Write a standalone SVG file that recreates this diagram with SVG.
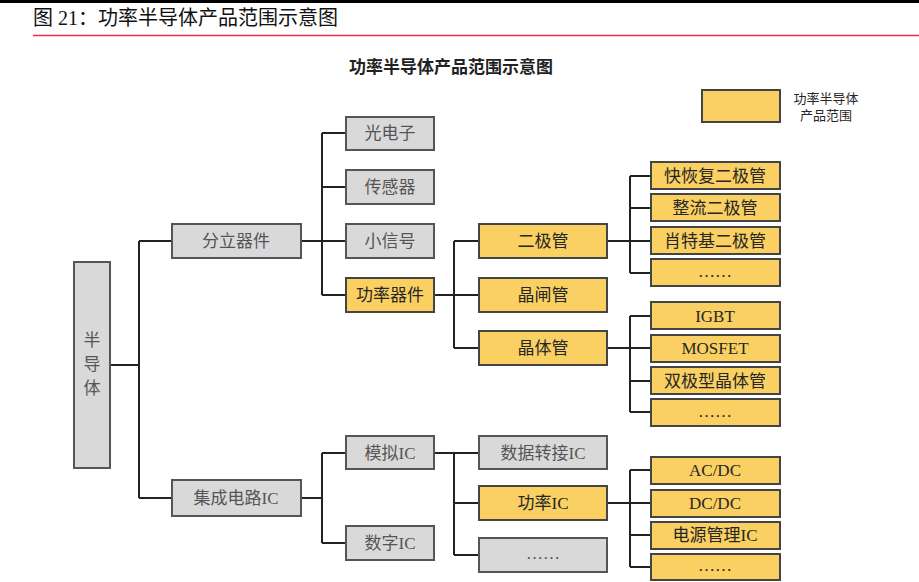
<svg xmlns="http://www.w3.org/2000/svg" width="919" height="582" viewBox="0 0 919 582">
<style>
text{font-family:"Liberation Serif","Noto Sans CJK SC",serif;font-size:17px;text-anchor:middle;dominant-baseline:central;fill:#262626}
.g rect{fill:#d9d9d9;stroke:#555;stroke-width:2}
.g text{fill:#555}
.y rect{fill:#f9d061;stroke:#444;stroke-width:2}
.c{fill:none;stroke:#222;stroke-width:2}
</style>
<rect x="0" y="0" width="919" height="582" fill="#fff"/>
<line x1="0" y1="1.5" x2="919" y2="1.5" stroke="#000" stroke-width="3"/>
<text x="33" y="18" style="text-anchor:start;font-size:20px;fill:#111;font-family:'Liberation Serif','Noto Sans CJK SC',serif">图 21：功率半导体产品范围示意图</text>
<line x1="33" y1="35.5" x2="919" y2="35.5" stroke="#e8313a" stroke-width="1.5"/>
<text x="451" y="67" style="font-weight:bold;font-size:17px;fill:#222">功率半导体产品范围示意图</text>
<g id="legend" class="y"><rect x="702" y="90" width="78" height="32"/>
<text x="826" y="98" style="font-size:13px">功率半导体</text><text x="826" y="115" style="font-size:13px">产品范围</text></g>
<g id="connectors" class="c">
<path d="M110 365H139M139 241V498M139 241H172M139 498H172"/>
<path d="M301 241H346M322 133V295M322 133H346M322 187H346M322 295H346"/>
<path d="M434 295H479M454 241V348M454 241H479M454 348H479"/>
<path d="M607 241H651M630 176V273M630 176H651M630 208H651M630 273H651"/>
<path d="M607 348H651M630 316V412M630 316H651M630 381H651M630 412H651"/>
<path d="M301 498H322M322 453V543M322 453H346M322 543H346"/>
<path d="M434 453H479M454 453V555M454 503H479M454 555H479"/>
<path d="M607 503H651M630 470V567M630 470H651M630 535H651M630 567H651"/>
</g>
<g id="n-semi" class="g"><rect x="74" y="262" width="36" height="206"/><text x="92" y="340">半</text><text x="92" y="364">导</text><text x="92" y="388">体</text></g>
<g id="n-discrete" class="g"><rect x="172" y="224" width="129" height="34"/><text x="236" y="241">分立器件</text></g>
<g id="n-ic" class="g"><rect x="172" y="480" width="129" height="36"/><text x="236" y="498">集成电路IC</text></g>
<g id="n-opto" class="g"><rect x="346" y="117" width="88" height="33"/><text x="390" y="133">光电子</text></g>
<g id="n-sensor" class="g"><rect x="346" y="170" width="88" height="34"/><text x="390" y="187">传感器</text></g>
<g id="n-small" class="g"><rect x="346" y="224" width="88" height="34"/><text x="390" y="241">小信号</text></g>
<g id="n-power" class="y"><rect x="346" y="278" width="88" height="34"/><text x="390" y="295">功率器件</text></g>
<g id="n-diode" class="y"><rect x="479" y="224" width="128" height="34"/><text x="543" y="241">二极管</text></g>
<g id="n-thyristor" class="y"><rect x="479" y="278" width="128" height="34"/><text x="543" y="295">晶闸管</text></g>
<g id="n-transistor" class="y"><rect x="479" y="331" width="128" height="34"/><text x="543" y="348">晶体管</text></g>
<g id="n-frd" class="y"><rect x="651" y="162" width="129" height="27"/><text x="715" y="176">快恢复二极管</text></g>
<g id="n-rect" class="y"><rect x="651" y="194" width="129" height="27"/><text x="715" y="208">整流二极管</text></g>
<g id="n-sbd" class="y"><rect x="651" y="227" width="129" height="27"/><text x="715" y="241">肖特基二极管</text></g>
<g id="n-d-more" class="y"><rect x="651" y="259" width="129" height="27"/><text x="715" y="271">……</text></g>
<g id="n-igbt" class="y"><rect x="651" y="302" width="129" height="27"/><text x="715" y="316">IGBT</text></g>
<g id="n-mosfet" class="y"><rect x="651" y="335" width="129" height="27"/><text x="715" y="348">MOSFET</text></g>
<g id="n-bjt" class="y"><rect x="651" y="367" width="129" height="27"/><text x="715" y="381">双极型晶体管</text></g>
<g id="n-t-more" class="y"><rect x="651" y="399" width="129" height="27"/><text x="715" y="411">……</text></g>
<g id="n-analog" class="g"><rect x="346" y="436" width="88" height="33"/><text x="390" y="453">模拟IC</text></g>
<g id="n-digital" class="g"><rect x="346" y="526" width="88" height="34"/><text x="390" y="543">数字IC</text></g>
<g id="n-dc" class="g"><rect x="479" y="436" width="128" height="33"/><text x="543" y="453">数据转接IC</text></g>
<g id="n-pic" class="y"><rect x="479" y="486" width="128" height="34"/><text x="543" y="503">功率IC</text></g>
<g id="n-a-more" class="g"><rect x="479" y="538" width="128" height="34"/><text x="543" y="553">……</text></g>
<g id="n-acdc" class="y"><rect x="651" y="457" width="129" height="27"/><text x="715" y="470">AC/DC</text></g>
<g id="n-dcdc" class="y"><rect x="651" y="490" width="129" height="27"/><text x="715" y="503">DC/DC</text></g>
<g id="n-pmic" class="y"><rect x="651" y="522" width="129" height="27"/><text x="715" y="535">电源管理IC</text></g>
<g id="n-p-more" class="y"><rect x="651" y="554" width="129" height="26"/><text x="715" y="565">……</text></g>
</svg>
